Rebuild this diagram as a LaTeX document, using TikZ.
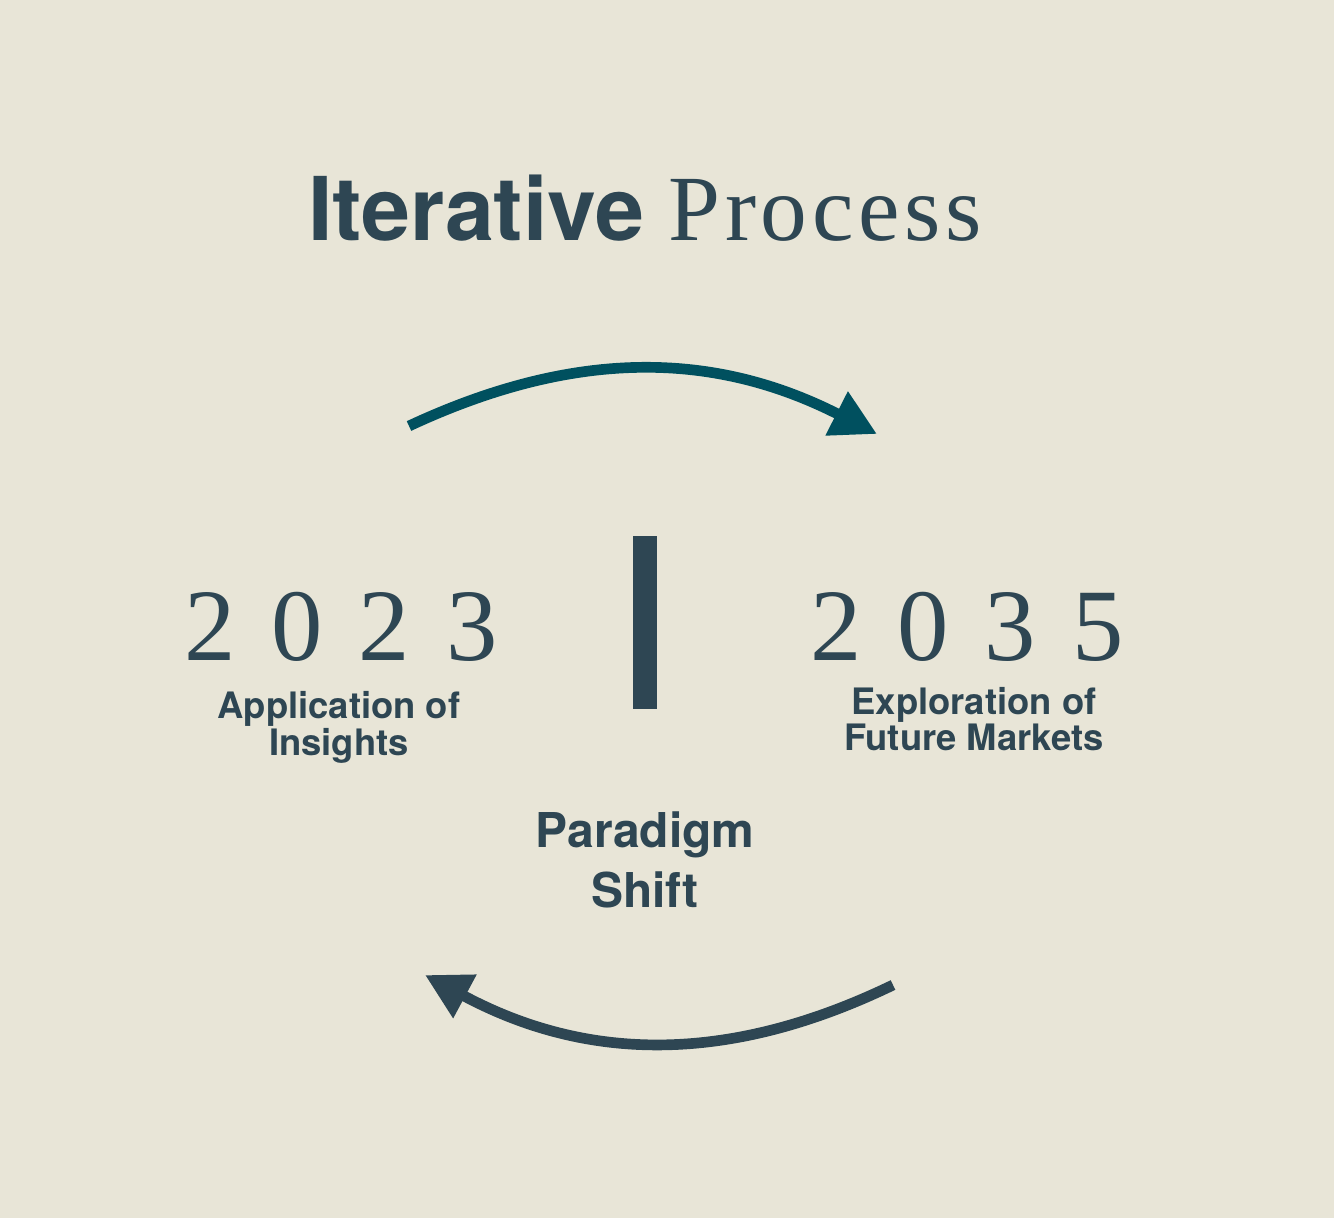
\documentclass[tikz,border=0pt]{standalone}
\usepackage{fontspec}
\usepackage{xcolor}
\setsansfont{TeX Gyre Heros}
\newfontfamily\procfont[LetterSpace=5]{Liberation Serif}
\newfontfamily\yearfont[LetterSpace=35]{Liberation Serif}
\usetikzlibrary{arrows.meta, calc}
\definecolor{Sand}{HTML}{E8E5D7}
\definecolor{Slate}{HTML}{2E4653}
\definecolor{Petrol}{HTML}{00505F}

\begin{document}
\begin{tikzpicture}[x=0.75pt, y=-0.75pt,
	cycle arrow/.style={line width=8pt, -{Triangle[length=34pt, width=35pt]}},
	year/.style={anchor=base, text=Slate, font=\yearfont\fontsize{77}{80}\selectfont},
	label/.style={anchor=base, text=Slate, align=center, font=\sffamily\bfseries\fontsize{27.3}{24.75}\selectfont}]

	\fill[Sand] (0,0) rectangle (1334,1218);
	\useasboundingbox (0,0) rectangle (1334,1218);

	\coordinate (T1) at (409,426);
	\coordinate (T2) at (877,434);
	\coordinate (B1) at (893,985);
	\coordinate (B2) at (425,975);

	\node[anchor=base, text=Slate] (title) at (645,240)
		{\fontsize{66}{70}\selectfont\sffamily\bfseries Iterative \mdseries\procfont\fontsize{70}{72}\selectfont Process};

	\draw[Petrol, cycle arrow] (T1) to[bend left=26] (T2);
	\draw[Slate, cycle arrow] (B1) to[bend left=27] (B2);

	\fill[Slate] (633,536) rectangle (657,709);

	\node[year] (y2023) at (341,660) {2023};
	\node[year] (y2035) at (967,660) {2035};

	% base anchor sits on the last line
	\node[label] (insights) at (339,755) {Application of\\Insights};
	\node[label] (markets) at (974,750) {Exploration of\\Future Markets};
	\node[label, font=\sffamily\bfseries\fontsize{36}{45}\selectfont] (shift) at (645,907) {Paradigm\\Shift};

\end{tikzpicture}
\end{document}
